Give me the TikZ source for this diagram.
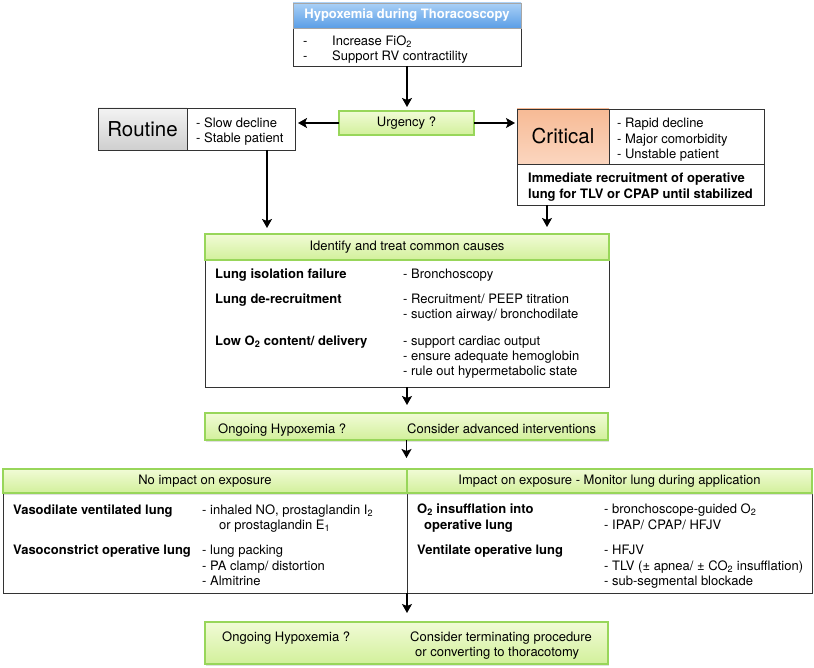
\documentclass[tikz,border=0pt]{standalone}
\usepackage{fontspec}
\setmainfont{TeX Gyre Heros}
\usetikzlibrary{arrows.meta,shadows}
\definecolor{gtop}{HTML}{F1FBD6}
\definecolor{gbot}{HTML}{D2F09B}
\definecolor{gborder}{HTML}{98D65A}
\definecolor{btop}{HTML}{A9D0F6}
\definecolor{bbot}{HTML}{5B9EE6}
\definecolor{otop}{HTML}{F7BA95}
\definecolor{obot}{HTML}{FBD6BF}
\definecolor{ytop}{HTML}{F3F3F3}
\definecolor{ybot}{HTML}{CFCFCF}
\begin{document}
\begin{tikzpicture}[x=1pt,y=-1pt,
  font=\fontsize{13}{15}\selectfont,
  gband/.style={draw=gborder, line width=1.2pt, top color=gtop, bottom color=gbot,
    drop shadow={opacity=.25,shadow xshift=1pt,shadow yshift=-1.5pt},
    inner sep=0, outer sep=0, anchor=north west},
  body/.style={draw=black!80, line width=0.9pt, fill=white, inner sep=0, outer sep=0, anchor=north west},
  txt/.style={anchor=base west, inner sep=0},
  btxt/.style={anchor=base west, inner sep=0, font=\fontsize{13}{15}\selectfont\bfseries},
  big/.style={inner sep=0, font=\fontsize{20.5}{22}\selectfont},
  arr/.style={-{Stealth[length=9pt,width=10pt,inset=2pt]}, line width=1.3pt, black}]
\useasboundingbox (0,0) rectangle (814,668);

% ---- top box
\node[body, minimum width=228pt, minimum height=38pt] (topbody) at (293,28) {};
\node[anchor=north west, inner sep=0, outer sep=0, draw=gray!70, line width=0.6pt,
  top color=btop, bottom color=bbot, minimum width=228pt, minimum height=25pt] (topband) at (293,3) {};
\node[inner sep=0, text=white, font=\fontsize{13}{15}\selectfont\bfseries] (toptitle) at (topband) {Hypoxemia during Thoracoscopy};
\node[txt] (td1) at (303,45.5) {-};
\node[txt] (tt1) at (332,45.5) {Increase FiO\textsubscript{2}};
\node[txt] (td2) at (303,61) {-};
\node[txt] (tt2) at (332,61) {Support RV contractility};

% ---- urgency
\node[gband, minimum width=135pt, minimum height=24pt] (urg) at (339,111) {};
\node[inner sep=0] (urgt) at (urg) {Urgency ?};

% ---- routine
\node[body, minimum width=197pt, minimum height=42pt,
  drop shadow={opacity=.3,shadow xshift=1pt,shadow yshift=-1.5pt}] (rout) at (98,108) {};
\node[anchor=north west, inner sep=0, outer sep=0, draw=black!80, line width=0.9pt,
  top color=ytop, bottom color=ybot, minimum width=89pt, minimum height=42pt] (routL) at (98,108) {};
\node[big] (routt) at (routL) {Routine};
\node[txt] (r1) at (196,128) {- Slow decline};
\node[txt] (r2) at (196,143) {- Stable patient};

% ---- critical
\node[body, minimum width=247pt, minimum height=96pt] (crit) at (517,109) {};
\node[body, minimum width=247pt, minimum height=41pt] (critB) at (517,164) {};
\node[anchor=north west, inner sep=0, outer sep=0, draw=black!80, line width=0.9pt,
  top color=otop, bottom color=obot, minimum width=92pt, minimum height=55pt] (critL) at (517,109) {};
\node[big] (critt) at (critL) {Critical};
\node[txt] (c1) at (617,128) {- Rapid decline};
\node[txt] (c2) at (617,143.5) {- Major comorbidity};
\node[txt] (c3) at (617,159) {- Unstable patient};
\node[btxt] (cb1) at (528,183) {Immediate recruitment of operative};
\node[btxt] (cb2) at (528,199) {lung for TLV or CPAP until stabilized};

% ---- identify
\node[body, minimum width=404pt, minimum height=127pt] (identB) at (205,260) {};
\node[gband, minimum width=404pt, minimum height=26pt] (identT) at (205,234) {};
\node[inner sep=0] (identt) at (identT) {Identify and treat common causes};
\node[btxt] (i1) at (215,279) {Lung isolation failure};
\node[btxt] (i2) at (215,304) {Lung de-recruitment};
\node[btxt] (i3) at (215,345) {Low O\textsubscript{2} content/ delivery};
\node[txt] (j1) at (403,279) {- Bronchoscopy};
\node[txt] (j2) at (403,304) {- Recruitment/ PEEP titration};
\node[txt] (j3) at (403,319) {- suction airway/ bronchodilate};
\node[txt] (j4) at (403,345) {- support cardiac output};
\node[txt] (j5) at (403,360) {- ensure adequate hemoglobin};
\node[txt] (j6) at (403,375) {- rule out hypermetabolic state};

% ---- ongoing 1
\node[gband, minimum width=403pt, minimum height=27pt] (ong1) at (205,413) {};
\node[txt] (o1) at (218,433) {Ongoing Hypoxemia ?};
\node[txt] (o2) at (407,433) {Consider advanced interventions};

% ---- pair of boxes
\node[body, minimum width=404pt, minimum height=100pt] (leftB) at (3,493) {};
\node[body, minimum width=405pt, minimum height=100pt] (rightB) at (407,493) {};
\node[gband, minimum width=404pt, minimum height=24pt] (leftT) at (3,469) {};
\node[gband, minimum width=405pt, minimum height=24pt] (rightT) at (407,469) {};
\node[inner sep=0] (leftt) at (leftT) {No impact on exposure};
\node[inner sep=0] (rightt) at (rightT) {Impact on exposure - Monitor lung during application};

\node[btxt] (l1) at (13,514) {Vasodilate ventilated lung};
\node[btxt] (l2) at (13,554) {Vasoconstrict operative lung};
\node[txt] (m1) at (202,514) {- inhaled NO, prostaglandin I\textsubscript{2}};
\node[txt] (m2) at (219,529) {or prostaglandin E\textsubscript{1}};
\node[txt] (m3) at (202,554) {- lung packing};
\node[txt] (m4) at (202,570) {- PA clamp/ distortion};
\node[txt] (m5) at (202,585) {- Almitrine};

\node[btxt] (p1) at (417,513) {O\textsubscript{2} insufflation into};
\node[btxt] (p2) at (424,529) {operative lung};
\node[btxt] (p3) at (417,554) {Ventilate operative lung};
\node[txt] (q1) at (604,513) {- bronchoscope-guided O\textsubscript{2}};
\node[txt] (q2) at (604,529) {- IPAP/ CPAP/ HFJV};
\node[txt] (q3) at (604,554) {- HFJV};
\node[txt] (q4) at (604,570) {- TLV (± apnea/ ± CO\textsubscript{2} insufflation)};
\node[txt] (q5) at (604,585) {- sub-segmental blockade};

% ---- last
\node[gband, minimum width=403pt, minimum height=42pt] (last) at (205,622) {};
\node[txt] (z1) at (222,641) {Ongoing Hypoxemia ?};
\node[txt] (z2) at (410,641) {Consider terminating procedure};
\node[txt] (z3) at (415,656) {or converting to thoracotomy};

% ---- connectors
\coordinate (rd) at (267,150);
\coordinate (cd) at (547,205);
\draw[arr, shorten >=4pt] (topbody.south) -- (topbody.south |- urg.north);
\draw[arr, shorten >=3pt] (urg.west) -- (urg.west -| rout.east);
\draw[arr, shorten >=2pt] (urg.east) -- (urg.east -| crit.west);
\draw[arr, shorten >=6pt] (rd) -- (rd |- identT.north);
\draw[arr, shorten >=7pt] (cd) -- (cd |- identT.north);
\draw[arr, shorten >=8pt] (identB.south) -- (identB.south |- ong1.north);
\draw[arr, shorten >=11pt] (ong1.south) -- (ong1.south |- leftT.north);
\draw[arr, shorten >=9pt] (leftB.south east) -- (leftB.south east |- last.north);
\end{tikzpicture}
\end{document}
